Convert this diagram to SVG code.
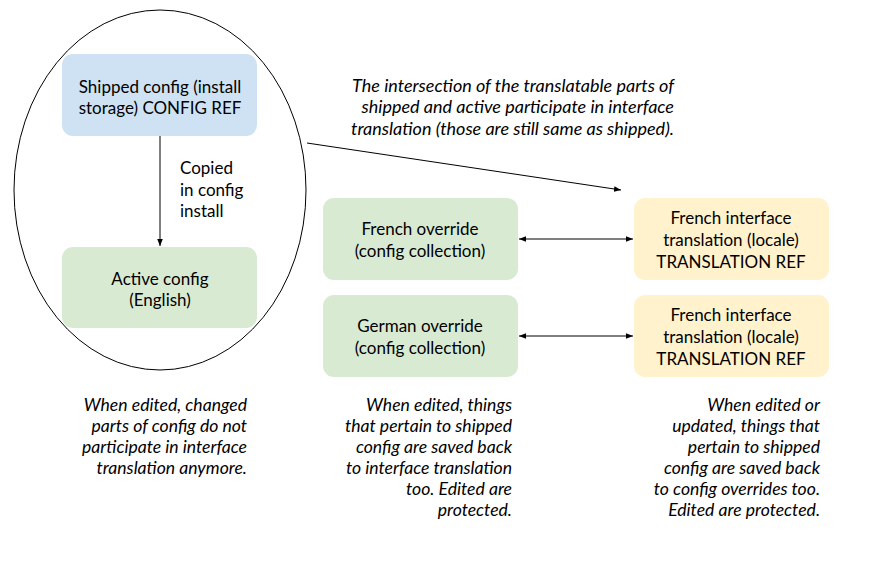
<svg xmlns="http://www.w3.org/2000/svg" width="870" height="569" viewBox="0 0 870 569">
<defs>
<marker id="ah" viewBox="0 0 10 10" refX="10" refY="5" markerWidth="7" markerHeight="7" markerUnits="userSpaceOnUse" orient="auto-start-reverse">
<path d="M0,1 L10,5 L0,9 Z" fill="#000"/>
</marker>
<style>
.t{font-family:Lato,"Open Sans","Liberation Sans",sans-serif;font-size:17px;fill:#000;text-anchor:middle}
.i{font-family:Lato,"Open Sans","Liberation Sans",sans-serif;font-size:17.6px;font-style:italic;fill:#000;text-anchor:end}
.it{font-size:18px}
.l{font-family:Lato,"Open Sans","Liberation Sans",sans-serif;font-size:17px;fill:#000}
.c{stroke:#000;stroke-width:1;fill:none}
.blue{fill:#cfe2f3}
.green{fill:#d9ead3}
.yellow{fill:#fff2cc}
</style>
</defs>
<rect width="870" height="569" fill="#fff"/>
<g id="scope">
<ellipse cx="160" cy="190" rx="146" ry="180" fill="none" stroke="#000" stroke-width="1"/>
</g>
<g id="connectors">
<line class="c" x1="160" y1="136" x2="160" y2="246" marker-end="url(#ah)"/>
<line class="c" x1="307" y1="143" x2="621" y2="190" marker-end="url(#ah)"/>
<line class="c" x1="519" y1="239" x2="633" y2="239" marker-start="url(#ah)" marker-end="url(#ah)"/>
<line class="c" x1="519" y1="336" x2="633" y2="336" marker-start="url(#ah)" marker-end="url(#ah)"/>
</g>
<g id="shipped">
<rect class="blue" x="62" y="54" width="195" height="82" rx="11"/>
<text class="t" x="160" y="93">Shipped config (install</text>
<text class="t" x="160" y="114">storage) CONFIG REF</text>
</g>
<g id="copied-label">
<text class="l" x="180" y="174">Copied</text>
<text class="l" x="180" y="196">in config</text>
<text class="l" x="180" y="217">install</text>
</g>
<g id="active">
<rect class="green" x="62" y="247" width="195" height="81" rx="11"/>
<text class="t" x="160" y="285">Active config</text>
<text class="t" x="160" y="306">(English)</text>
</g>
<g id="french-override">
<rect class="green" x="323" y="198" width="195" height="82" rx="11"/>
<text class="t" x="420" y="235">French override</text>
<text class="t" x="420" y="257">(config collection)</text>
</g>
<g id="german-override">
<rect class="green" x="323" y="295" width="195" height="82" rx="11"/>
<text class="t" x="420" y="332">German override</text>
<text class="t" x="420" y="354">(config collection)</text>
</g>
<g id="french-translation">
<rect class="yellow" x="634" y="198" width="195" height="82" rx="11"/>
<text class="t" x="731" y="224">French interface</text>
<text class="t" x="731" y="246">translation (locale)</text>
<text class="t" x="731" y="268">TRANSLATION REF</text>
</g>
<g id="french-translation-2">
<rect class="yellow" x="634" y="295" width="195" height="82" rx="11"/>
<text class="t" x="731" y="321">French interface</text>
<text class="t" x="731" y="343">translation (locale)</text>
<text class="t" x="731" y="365">TRANSLATION REF</text>
</g>
<g id="note-top">
<text class="i it" x="674" y="92">The intersection of the translatable parts of</text>
<text class="i it" x="674" y="113">shipped and active participate in interface</text>
<text class="i it" x="674" y="135">translation (those are still same as shipped).</text>
</g>
<g id="note-1">
<text class="i" x="247" y="411">When edited, changed</text>
<text class="i" x="247" y="432">parts of config do not</text>
<text class="i" x="247" y="453">participate in interface</text>
<text class="i" x="247" y="474">translation anymore.</text>
</g>
<g id="note-2">
<text class="i" x="512" y="411">When edited, things</text>
<text class="i" x="512" y="432">that pertain to shipped</text>
<text class="i" x="512" y="453">config are saved back</text>
<text class="i" x="512" y="474">to interface translation</text>
<text class="i" x="512" y="495">too. Edited are</text>
<text class="i" x="512" y="516">protected.</text>
</g>
<g id="note-3">
<text class="i" x="820" y="411">When edited or</text>
<text class="i" x="820" y="432">updated, things that</text>
<text class="i" x="820" y="453">pertain to shipped</text>
<text class="i" x="820" y="474">config are saved back</text>
<text class="i" x="820" y="495">to config overrides too.</text>
<text class="i" x="820" y="516">Edited are protected.</text>
</g>
</svg>
